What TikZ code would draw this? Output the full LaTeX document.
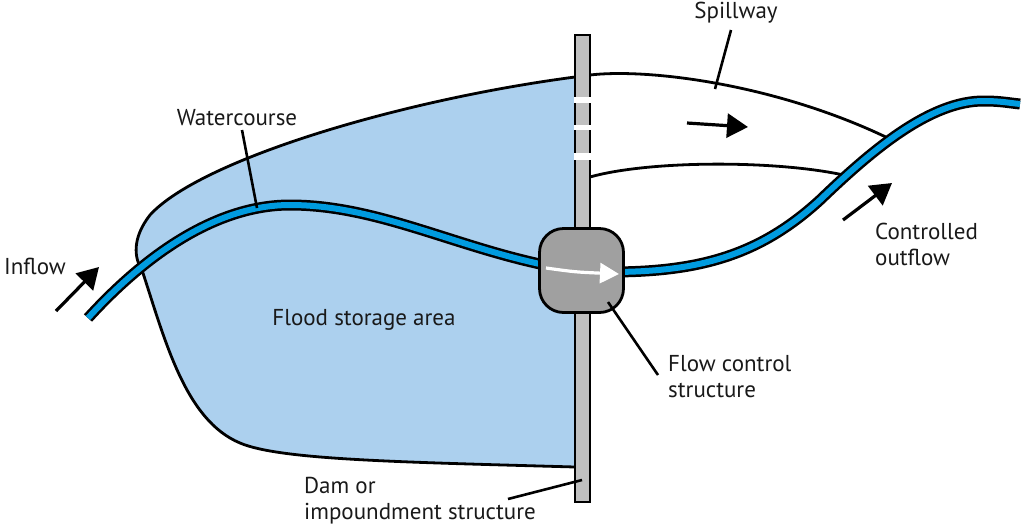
\documentclass[tikz,border=0pt]{standalone}
\usepackage{fontspec}
\setmainfont{PT Sans}
\usetikzlibrary{arrows.meta}
\definecolor{floodblue}{RGB}{172,208,238}
\definecolor{waterblue}{RGB}{0,155,223}
\definecolor{damgray}{RGB}{192,192,192}
\definecolor{ctrlgray}{RGB}{160,160,160}
\tikzset{
  outline/.style={draw=black, line width=2.8pt},
  leader/.style={draw=black, line width=2.6pt},
  bigarrow/.style={draw=black, line width=3.2pt, -{Triangle[length=21pt,width=24pt]}},
  lbl/.style={font=\fontsize{23}{26}\selectfont, inner sep=0pt, text=black!90},
}
\begin{document}
\begin{tikzpicture}[x=1pt,y=-1pt]
\useasboundingbox (0,0) rectangle (1024,531);
% flood storage area
\fill[floodblue] (575,77) .. controls (400,100) and (200,160) .. (150,215)
  .. controls (132,238) and (134,258) .. (142,270)
  .. controls (165,340) and (185,420) .. (240,443)
  .. controls (280,460) and (400,462) .. (575,467) -- cycle;
\draw[outline] (575,77) .. controls (400,100) and (200,160) .. (150,215)
  .. controls (132,238) and (134,258) .. (142,270)
  .. controls (165,340) and (185,420) .. (240,443)
  .. controls (280,460) and (400,462) .. (575,467);
% spillway channel
\coordinate (spTop) at (590,75);
\coordinate (spTopEnd) at (892,140);
\coordinate (spBot) at (590,177);
\coordinate (spBotEnd) at (848,176);
\draw[outline] (spTop) .. controls (650,68) and (780,85) .. (spTopEnd);
\draw[outline] (spBot) .. controls (650,160) and (780,160) .. (spBotEnd);
% dam
\node[draw=black, line width=2.8pt, fill=damgray, minimum width=15pt, minimum height=467pt, inner sep=0pt] (dam) at (582.5,268.5) {};
\fill[white] (573.5,97) rectangle (591.5,103);
\fill[white] (573.5,125) rectangle (591.5,130);
\fill[white] (573.5,153) rectangle (591.5,160);
% watercourse
\def\wcpath{(88,318) .. controls (150,250) and (220,205) .. (290,205) .. controls (380,205) and (460,250) .. (560,268) -- (610,272) .. controls (700,272) and (760,255) .. (820,200) .. controls (870,152) and (930,100) .. (985,101) .. controls (1000,101) and (1010,103) .. (1020,104)}
\draw[black, line width=11pt] \wcpath;
\draw[waterblue, line width=6pt] \wcpath;
% flow control structure
\node[draw=black, line width=2.8pt, fill=ctrlgray, rounded corners=24pt, minimum width=84pt, minimum height=84pt, inner sep=0pt] (ctrl) at (581.5,270.5) {};
\draw[white, line width=3.2pt, -{Triangle[length=19pt,width=20pt]}] (546,268) .. controls (575,272) .. (619,274);
% labels
\node[lbl, anchor=base] (spill) at (736,18) {Spillway};
\node[lbl, anchor=base] (wc) at (237,125) {Watercourse};
\node[lbl, anchor=base west] (inflow) at (4,274) {Inflow};
\node[lbl, anchor=base] (fsa) at (364,325) {Flood storage area};
\node[lbl, anchor=north west, align=left] (outflow) at (875,223) {Controlled\\outflow};
\node[lbl, anchor=north west, align=left] (fcs) at (668,355) {Flow control\\structure};
\node[lbl, anchor=north west, align=left] (damlbl) at (304,477) {Dam or\\impoundment structure};
% leaders
\draw[leader] (731,30) -- (715,89);
\draw[leader] (242,130) -- (257,208);
\draw[leader] (608,302) -- (658,375);
\draw[leader] (582,480) -- (508,499);
% flow arrows
\coordinate (inA) at (56,311); \coordinate (inB) at (99,267);
\draw[bigarrow] (inA) -- (inB);
\coordinate (spA) at (687,123); \coordinate (spB) at (748,127);
\draw[bigarrow] (spA) -- (spB);
\coordinate (outA) at (843,220); \coordinate (outB) at (892,183);
\draw[bigarrow] (outA) -- (outB);
\end{tikzpicture}
\end{document}
